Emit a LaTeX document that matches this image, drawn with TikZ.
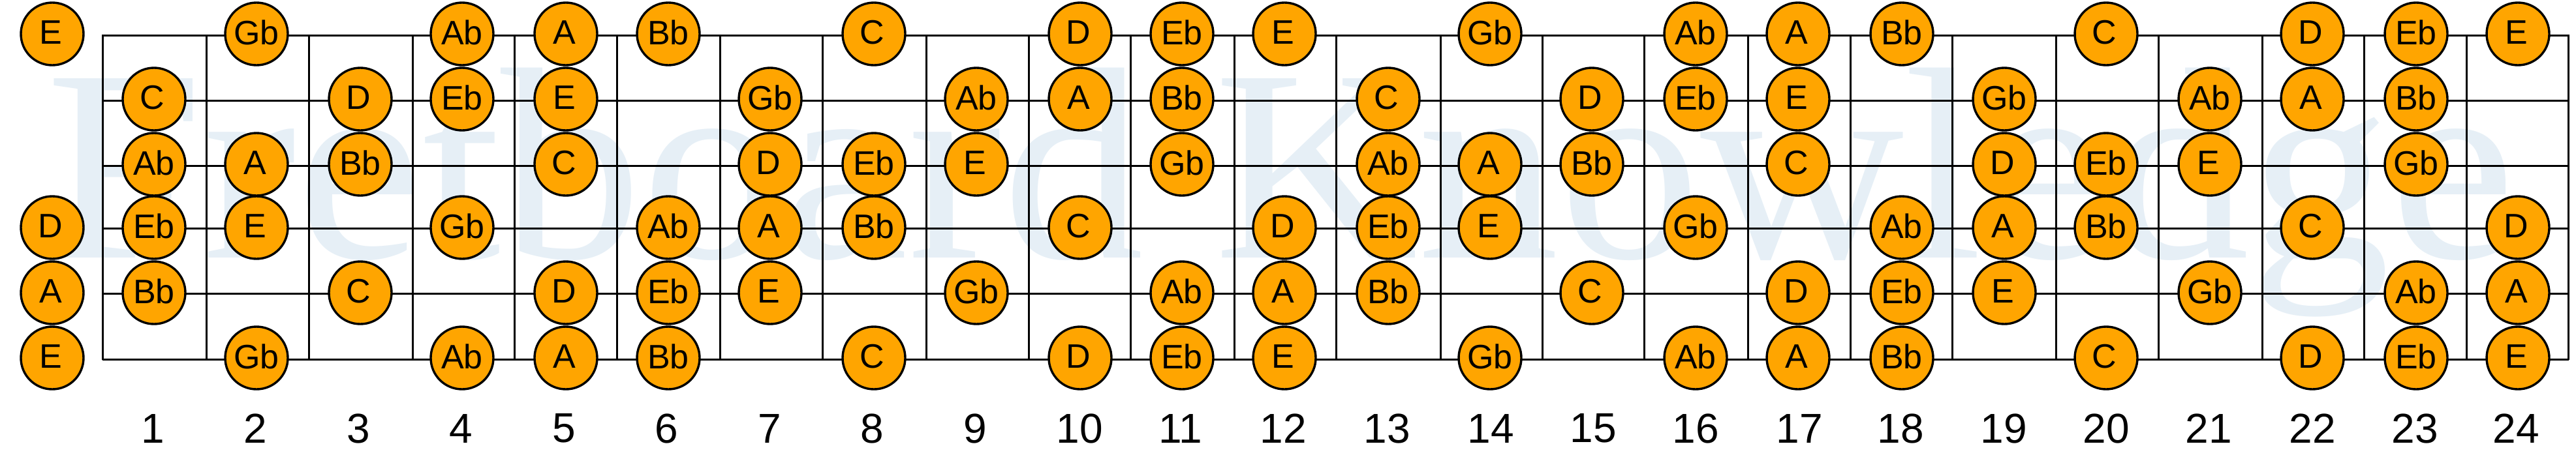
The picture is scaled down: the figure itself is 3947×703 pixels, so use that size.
\documentclass[tikz,border=0pt]{standalone}
\usepackage{fontspec}
\setmainfont{Liberation Sans}
\newfontfamily\markfont{Liberation Serif}
\definecolor{notecol}{HTML}{FFA500}
\definecolor{markcol}{HTML}{E6EFF6}
\tikzset{nt/.style = {circle, draw, line width=1.7pt, fill=notecol, minimum size=48pt, inner sep=0pt, text depth=2.8pt, font=\fontsize{26pt}{26pt}\selectfont},
           sn/.style = {nt, execute at end node={\kern2.5pt}},
           num/.style = {inner sep=0pt, font=\fontsize{32pt}{32pt}\selectfont},
           wm/.style = {inner sep=0pt, anchor=base west, text=markcol, font=\markfont\fontsize{210pt}{210pt}\selectfont},
           ln/.style = {line width=1.5pt}}
\begin{document}
\begin{tikzpicture}[x=0.5pt, y=-0.5pt]
    \useasboundingbox (0,0) rectangle (3947,703);
    \node[wm] (mark) at (70,395) {\scalebox{1.03}[1]{Fretboard Knowledge}};
    % strings
    \coordinate (s1l) at (157,54);  \coordinate (s1r) at (3936,54);
    \coordinate (s2l) at (157,154); \coordinate (s2r) at (3936,154);
    \coordinate (s3l) at (157,254); \coordinate (s3r) at (3936,254);
    \coordinate (s4l) at (157,350); \coordinate (s4r) at (3936,350);
    \coordinate (s5l) at (157,450); \coordinate (s5r) at (3936,450);
    \coordinate (s6l) at (157,551); \coordinate (s6r) at (3936,551);
    \draw[ln] (s1l) -- (s1r);
    \draw[ln] (s2l) -- (s2r);
    \draw[ln] (s3l) -- (s3r);
    \draw[ln] (s4l) -- (s4r);
    \draw[ln] (s5l) -- (s5r);
    \draw[ln] (s6l) -- (s6r);
    % frets
    \coordinate (f0t) at (157,53);   \coordinate (f0b) at (157,552);
    \coordinate (f1t) at (316,53);   \coordinate (f1b) at (316,552);
    \coordinate (f2t) at (473,53);   \coordinate (f2b) at (473,552);
    \coordinate (f3t) at (632,53);   \coordinate (f3b) at (632,552);
    \coordinate (f4t) at (788,53);   \coordinate (f4b) at (788,552);
    \coordinate (f5t) at (945,53);   \coordinate (f5b) at (945,552);
    \coordinate (f6t) at (1103,53);  \coordinate (f6b) at (1103,552);
    \coordinate (f7t) at (1260,53);  \coordinate (f7b) at (1260,552);
    \coordinate (f8t) at (1419,53);  \coordinate (f8b) at (1419,552);
    \coordinate (f9t) at (1576,53);  \coordinate (f9b) at (1576,552);
    \coordinate (f10t) at (1732,53); \coordinate (f10b) at (1732,552);
    \coordinate (f11t) at (1891,53); \coordinate (f11b) at (1891,552);
    \coordinate (f12t) at (2047,53); \coordinate (f12b) at (2047,552);
    \coordinate (f13t) at (2207,53); \coordinate (f13b) at (2207,552);
    \coordinate (f14t) at (2363,53); \coordinate (f14b) at (2363,552);
    \coordinate (f15t) at (2519,53); \coordinate (f15b) at (2519,552);
    \coordinate (f16t) at (2678,53); \coordinate (f16b) at (2678,552);
    \coordinate (f17t) at (2835,53); \coordinate (f17b) at (2835,552);
    \coordinate (f18t) at (2991,53); \coordinate (f18b) at (2991,552);
    \coordinate (f19t) at (3150,53); \coordinate (f19b) at (3150,552);
    \coordinate (f20t) at (3307,53); \coordinate (f20b) at (3307,552);
    \coordinate (f21t) at (3466,53); \coordinate (f21b) at (3466,552);
    \coordinate (f22t) at (3622,53); \coordinate (f22b) at (3622,552);
    \coordinate (f23t) at (3779,53); \coordinate (f23b) at (3779,552);
    \coordinate (f24t) at (3935,53); \coordinate (f24b) at (3935,552);
    \draw[ln] (f0t) -- (f0b);   \draw[ln] (f1t) -- (f1b);   \draw[ln] (f2t) -- (f2b);
    \draw[ln] (f3t) -- (f3b);   \draw[ln] (f4t) -- (f4b);   \draw[ln] (f5t) -- (f5b);
    \draw[ln] (f6t) -- (f6b);   \draw[ln] (f7t) -- (f7b);   \draw[ln] (f8t) -- (f8b);
    \draw[ln] (f9t) -- (f9b);   \draw[ln] (f10t) -- (f10b); \draw[ln] (f11t) -- (f11b);
    \draw[ln] (f12t) -- (f12b); \draw[ln] (f13t) -- (f13b); \draw[ln] (f14t) -- (f14b);
    \draw[ln] (f15t) -- (f15b); \draw[ln] (f16t) -- (f16b); \draw[ln] (f17t) -- (f17b);
    \draw[ln] (f18t) -- (f18b); \draw[ln] (f19t) -- (f19b); \draw[ln] (f20t) -- (f20b);
    \draw[ln] (f21t) -- (f21b); \draw[ln] (f22t) -- (f22b); \draw[ln] (f23t) -- (f23b);
    \draw[ln] (f24t) -- (f24b);
    % first string
    \node[sn] (a0) at (80,52) {E};      \node[nt] (a2) at (393,52) {Gb};    \node[nt] (a4) at (708,52) {Ab};
    \node[sn] (a5) at (867,52) {A};     \node[nt] (a6) at (1024,52) {Bb};   \node[sn] (a8) at (1339,52) {C};
    \node[sn] (a10) at (1655,52) {D};   \node[nt] (a11) at (1811,52) {Eb};  \node[sn] (a12) at (1968,52) {E};
    \node[nt] (a14) at (2283,52) {Gb};  \node[nt] (a16) at (2598,52) {Ab};  \node[sn] (a17) at (2755,52) {A};
    \node[nt] (a18) at (2914,52) {Bb};  \node[sn] (a20) at (3227,52) {C};   \node[sn] (a22) at (3543,52) {D};
    \node[nt] (a23) at (3702,52) {Eb};  \node[sn] (a24) at (3858,52) {E};
    % second string
    \node[sn] (b1) at (236,152) {C};    \node[sn] (b3) at (552,152) {D};    \node[nt] (b4) at (708,152) {Eb};
    \node[sn] (b5) at (867,152) {E};    \node[nt] (b7) at (1180,152) {Gb};  \node[nt] (b9) at (1496,152) {Ab};
    \node[sn] (b10) at (1655,152) {A};  \node[nt] (b11) at (1811,152) {Bb}; \node[sn] (b13) at (2127,152) {C};
    \node[sn] (b15) at (2439,152) {D};  \node[nt] (b16) at (2598,152) {Eb}; \node[sn] (b17) at (2755,152) {E};
    \node[nt] (b19) at (3071,152) {Gb}; \node[nt] (b21) at (3386,152) {Ab}; \node[sn] (b22) at (3543,152) {A};
    \node[nt] (b23) at (3702,152) {Bb};
    % third string
    \node[nt] (c1) at (236,252) {Ab};   \node[sn] (c2) at (393,252) {A};    \node[nt] (c3) at (552,252) {Bb};
    \node[sn] (c5) at (867,252) {C};    \node[sn] (c7) at (1180,252) {D};   \node[nt] (c8) at (1339,252) {Eb};
    \node[sn] (c9) at (1496,252) {E};   \node[nt] (c11) at (1811,252) {Gb}; \node[nt] (c13) at (2127,252) {Ab};
    \node[sn] (c14) at (2283,252) {A};  \node[nt] (c15) at (2439,252) {Bb}; \node[sn] (c17) at (2755,252) {C};
    \node[sn] (c19) at (3071,252) {D};  \node[nt] (c20) at (3227,252) {Eb}; \node[sn] (c21) at (3386,252) {E};
    \node[nt] (c23) at (3702,252) {Gb};
    % fourth string
    \node[sn] (d0) at (80,349) {D};     \node[nt] (d1) at (236,349) {Eb};   \node[sn] (d2) at (393,349) {E};
    \node[nt] (d4) at (708,349) {Gb};   \node[nt] (d6) at (1024,349) {Ab};  \node[sn] (d7) at (1180,349) {A};
    \node[nt] (d8) at (1339,349) {Bb};  \node[sn] (d10) at (1655,349) {C};  \node[sn] (d12) at (1968,349) {D};
    \node[nt] (d13) at (2127,349) {Eb}; \node[sn] (d14) at (2283,349) {E};  \node[nt] (d16) at (2598,349) {Gb};
    \node[nt] (d18) at (2914,349) {Ab}; \node[sn] (d19) at (3071,349) {A};  \node[nt] (d20) at (3227,349) {Bb};
    \node[sn] (d22) at (3543,349) {C};  \node[sn] (d24) at (3858,349) {D};
    % fifth string
    \node[sn] (e0) at (80,449) {A};     \node[nt] (e1) at (236,449) {Bb};   \node[sn] (e3) at (552,449) {C};
    \node[sn] (e5) at (867,449) {D};    \node[nt] (e6) at (1024,449) {Eb};  \node[sn] (e7) at (1180,449) {E};
    \node[nt] (e9) at (1496,449) {Gb};  \node[nt] (e11) at (1811,449) {Ab}; \node[sn] (e12) at (1968,449) {A};
    \node[nt] (e13) at (2127,449) {Bb}; \node[sn] (e15) at (2439,449) {C};  \node[sn] (e17) at (2755,449) {D};
    \node[nt] (e18) at (2914,449) {Eb}; \node[sn] (e19) at (3071,449) {E};  \node[nt] (e21) at (3386,449) {Gb};
    \node[nt] (e23) at (3702,449) {Ab}; \node[sn] (e24) at (3858,449) {A};
    % sixth string
    \node[sn] (g0) at (80,549) {E};     \node[nt] (g2) at (393,549) {Gb};   \node[nt] (g4) at (708,549) {Ab};
    \node[sn] (g5) at (867,549) {A};    \node[nt] (g6) at (1024,549) {Bb};  \node[sn] (g8) at (1339,549) {C};
    \node[sn] (g10) at (1655,549) {D};  \node[nt] (g11) at (1811,549) {Eb}; \node[sn] (g12) at (1968,549) {E};
    \node[nt] (g14) at (2283,549) {Gb}; \node[nt] (g16) at (2598,549) {Ab}; \node[sn] (g17) at (2755,549) {A};
    \node[nt] (g18) at (2914,549) {Bb}; \node[sn] (g20) at (3227,549) {C};  \node[sn] (g22) at (3543,549) {D};
    \node[nt] (g23) at (3702,549) {Eb}; \node[sn] (g24) at (3858,549) {E};
    % fret numbers
    \node[num] (n1) at (234,657) {1};    \node[num] (n2) at (391,657) {2};    \node[num] (n3) at (549,657) {3};
    \node[num] (n4) at (706,657) {4};    \node[num] (n5) at (864,657) {5};    \node[num] (n6) at (1021,657) {6};
    \node[num] (n7) at (1179,657) {7};   \node[num] (n8) at (1336,657) {8};   \node[num] (n9) at (1494,657) {9};
    \node[num] (n10) at (1654,657) {10}; \node[num] (n11) at (1809,657) {11}; \node[num] (n12) at (1966,657) {12};
    \node[num] (n13) at (2125,657) {13}; \node[num] (n14) at (2284,657) {14}; \node[num] (n15) at (2441,657) {15};
    \node[num] (n16) at (2598,657) {16}; \node[num] (n17) at (2757,657) {17}; \node[num] (n18) at (2912,657) {18};
    \node[num] (n19) at (3070,657) {19}; \node[num] (n20) at (3227,657) {20}; \node[num] (n21) at (3384,657) {21};
    \node[num] (n22) at (3543,657) {22}; \node[num] (n23) at (3700,657) {23}; \node[num] (n24) at (3855,657) {24};
\end{tikzpicture}
\end{document}
